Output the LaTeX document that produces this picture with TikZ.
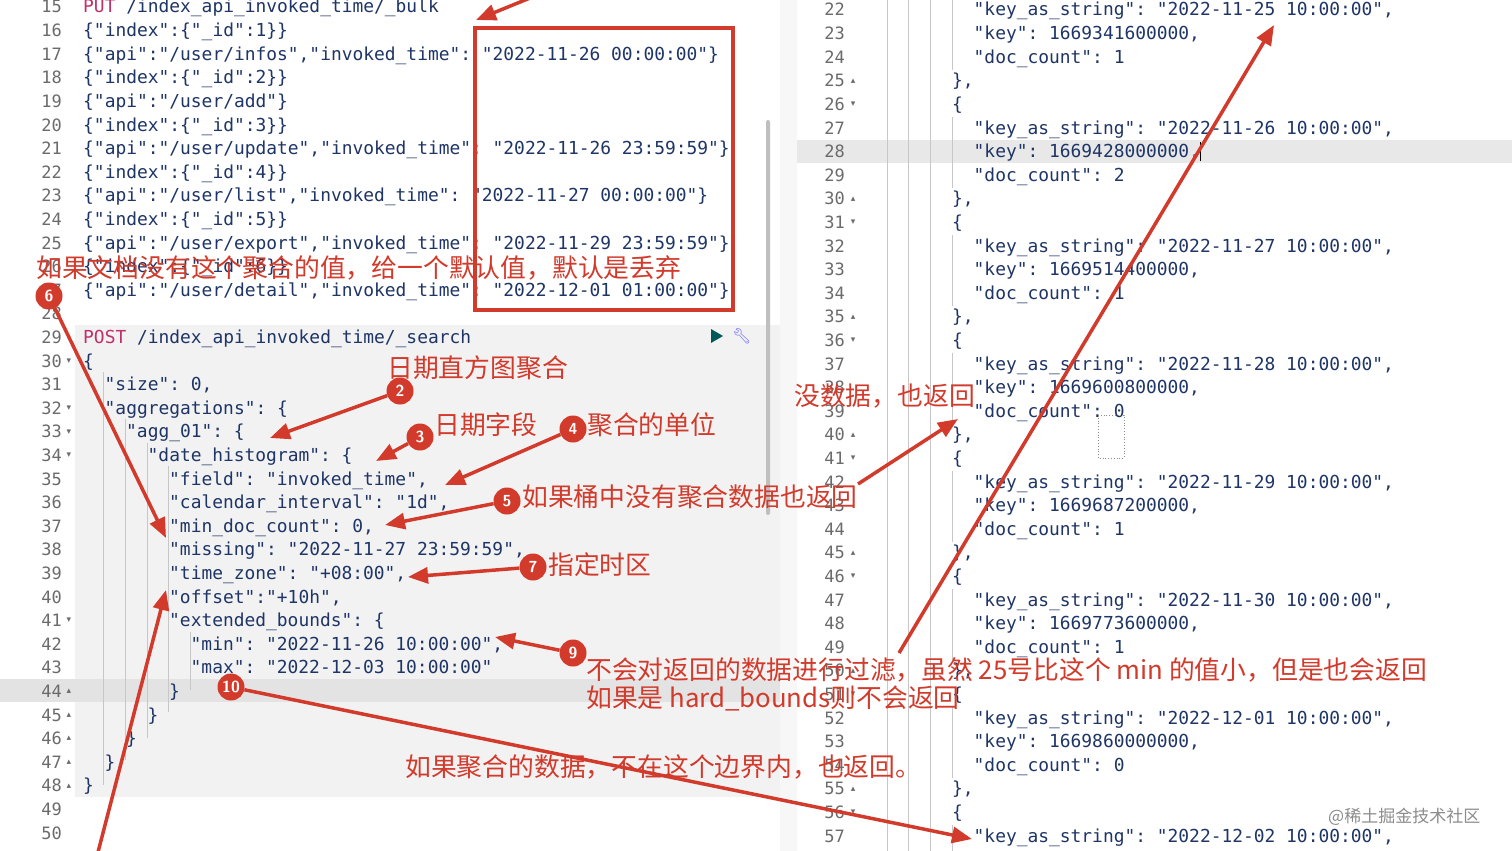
\documentclass[tikz,border=0pt]{standalone}
\usepackage{fontspec}
\setmonofont{DejaVu Sans Mono}
\newfontfamily\cjk{Noto Sans CJK SC}
\newfontfamily\dvs{DejaVu Sans}
\newfontfamily\emo{Noto Emoji}
\usetikzlibrary{arrows.meta}
\definecolor{codec}{HTML}{1E3566}
\definecolor{annr}{HTML}{D23A2B}
\definecolor{kwc}{HTML}{C0306A}
\definecolor{numc}{HTML}{6B6B6B}
\tikzset{
 code/.style={inner sep=0pt,font=\ttfamily\fontsize{17.9}{20}\selectfont,text=codec},
 lnum/.style={inner sep=0pt,font=\ttfamily\fontsize{17}{20}\selectfont,text=numc},
 fold/.style={inner sep=0pt,font=\dvs\fontsize{9}{10}\selectfont,text=numc},
 ann/.style={inner sep=0pt,font=\cjk\fontsize{25.8}{28}\selectfont,text=annr,anchor=west},
 badge/.style={circle,fill=annr,text=white,inner sep=0pt,minimum size=27pt,font=\sffamily\bfseries\fontsize{16}{18}\selectfont},
 arr/.style={draw=annr,line width=3.5pt,-{Triangle[length=20pt,width=16pt]}},
 guide/.style={draw=black!22,line width=0.8pt}
}
\newcommand\mylc[3]{\node[code,anchor=base west] (L#1) at ({83+#2*10.75},{#1*23.6-341}) {#3};\node[lnum,anchor=base east] (N#1) at (62,{#1*23.6-341}) {#1};}
\newcommand\myrc[3]{\node[code,anchor=base west] (R#1) at ({952+#2*10.75},{#1*23.6-503.2}) {#3};\node[lnum,anchor=base east] (M#1) at (845,{#1*23.6-503.2}) {#1};}
\newcommand\lfold[2]{\node[fold] (FL#1) at (69,{#1*23.6-347}) {#2};}
\newcommand\rfold[2]{\node[fold] (FR#1) at (853,{#1*23.6-509.2}) {#2};}
\begin{document}
\begin{tikzpicture}[x=1pt,y=-1pt]
\useasboundingbox (0,0) rectangle (1512,851);
\fill[white] (0,0) rectangle (1512,851);
% backgrounds
\fill[black!5] (75,325) rectangle (780,797);
\fill[black!11] (0,679) rectangle (780,702);
\fill[black!9] (797,140) rectangle (1512,163);
\fill[black!3] (780,0) rectangle (797,851);
\fill[black!25,rounded corners=2pt] (766,120) rectangle (770,515);
% guides left
\foreach \x/\a/\b in {103/372/785,125/419/760,147/443/738,168/466/712,190/632/690}
  \draw[guide] (\x,\a) -- (\x,\b);
% guides right
\foreach \x in {887,908,930}
  \draw[guide] (\x,0) -- (\x,851);
\foreach \a/\b in {0/70,117/188,235/306,353/424,471/542,589/660,707/778,825/851}
  \draw[guide] (952,\a) -- (952,\b);
% left code
\node[code,anchor=base west,text=kwc] (L15) at (83,13) {PUT \textcolor{codec}{/index\_api\_invoked\_time/\_bulk}};
\node[lnum,anchor=base east] (N15) at (62,13) {15};
\mylc{16}{0}{\{"index":\{"\_id":1\}\}}
\mylc{17}{0}{\{"api":"/user/infos","invoked\_time": "2022-11-26 00:00:00"\}}
\mylc{18}{0}{\{"index":\{"\_id":2\}\}}
\mylc{19}{0}{\{"api":"/user/add"\}}
\mylc{20}{0}{\{"index":\{"\_id":3\}\}}
\mylc{21}{0}{\{"api":"/user/update","invoked\_time": "2022-11-26 23:59:59"\}}
\mylc{22}{0}{\{"index":\{"\_id":4\}\}}
\mylc{23}{0}{\{"api":"/user/list","invoked\_time": "2022-11-27 00:00:00"\}}
\mylc{24}{0}{\{"index":\{"\_id":5\}\}}
\mylc{25}{0}{\{"api":"/user/export","invoked\_time": "2022-11-29 23:59:59"\}}
\mylc{26}{0}{\{"index":\{"\_id":6\}\}}
\mylc{27}{0}{\{"api":"/user/detail","invoked\_time": "2022-12-01 01:00:00"\}}
\node[lnum,anchor=base east] (N28) at (62,{28*23.6-341}) {28};
\node[code,anchor=base west,text=kwc] (L29) at (83,{29*23.6-341}) {POST \textcolor{codec}{/index\_api\_invoked\_time/\_search}};
\node[lnum,anchor=base east] (N29) at (62,{29*23.6-341}) {29};
\mylc{30}{0}{\{}
\mylc{31}{2}{"size": 0,}
\mylc{32}{2}{"aggregations": \{}
\mylc{33}{4}{"agg\_01": \{}
\mylc{34}{6}{"date\_histogram": \{}
\mylc{35}{8}{"field": "invoked\_time",}
\mylc{36}{8}{"calendar\_interval": "1d",}
\mylc{37}{8}{"min\_doc\_count": 0,}
\mylc{38}{8}{"missing": "2022-11-27 23:59:59",}
\mylc{39}{8}{"time\_zone": "+08:00",}
\mylc{40}{8}{"offset":"+10h",}
\mylc{41}{8}{"extended\_bounds": \{}
\mylc{42}{10}{"min": "2022-11-26 10:00:00",}
\mylc{43}{10}{"max": "2022-12-03 10:00:00"}
\mylc{44}{8}{\}}
\mylc{45}{6}{\}}
\mylc{46}{4}{\}}
\mylc{47}{2}{\}}
\mylc{48}{0}{\}}
\node[lnum,anchor=base east] (N49) at (62,{49*23.6-341}) {49};
\node[lnum,anchor=base east] (N50) at (62,{50*23.6-341}) {50};
\lfold{30}{▾}\lfold{32}{▾}\lfold{33}{▾}\lfold{34}{▾}\lfold{41}{▾}
\lfold{44}{▴}\lfold{45}{▴}\lfold{46}{▴}\lfold{47}{▴}\lfold{48}{▴}
% run icons
\fill[teal!70!black] (711,329) -- (711,343) -- (723,336) -- cycle;
\node[inner sep=0pt,font=\emo\fontsize{15}{16}\selectfont,text=blue!60] (wr) at (742,336) {🔧};
% right code
\myrc{22}{2}{"key\_as\_string": "2022-11-25 10:00:00",}
\myrc{23}{2}{"key": 1669341600000,}
\myrc{24}{2}{"doc\_count": 1}
\myrc{25}{0}{\},}
\myrc{26}{0}{\{}
\myrc{27}{2}{"key\_as\_string": "2022-11-26 10:00:00",}
\myrc{28}{2}{"key": 1669428000000,}
\myrc{29}{2}{"doc\_count": 2}
\myrc{30}{0}{\},}
\myrc{31}{0}{\{}
\myrc{32}{2}{"key\_as\_string": "2022-11-27 10:00:00",}
\myrc{33}{2}{"key": 1669514400000,}
\myrc{34}{2}{"doc\_count": 1}
\myrc{35}{0}{\},}
\myrc{36}{0}{\{}
\myrc{37}{2}{"key\_as\_string": "2022-11-28 10:00:00",}
\myrc{38}{2}{"key": 1669600800000,}
\myrc{39}{2}{"doc\_count": 0}
\myrc{40}{0}{\},}
\myrc{41}{0}{\{}
\myrc{42}{2}{"key\_as\_string": "2022-11-29 10:00:00",}
\myrc{43}{2}{"key": 1669687200000,}
\myrc{44}{2}{"doc\_count": 1}
\myrc{45}{0}{\},}
\myrc{46}{0}{\{}
\myrc{47}{2}{"key\_as\_string": "2022-11-30 10:00:00",}
\myrc{48}{2}{"key": 1669773600000,}
\myrc{49}{2}{"doc\_count": 1}
\myrc{50}{0}{\},}
\myrc{51}{0}{\{}
\myrc{52}{2}{"key\_as\_string": "2022-12-01 10:00:00",}
\myrc{53}{2}{"key": 1669860000000,}
\myrc{54}{2}{"doc\_count": 0}
\myrc{55}{0}{\},}
\myrc{56}{0}{\{}
\myrc{57}{2}{"key\_as\_string": "2022-12-02 10:00:00",}
\rfold{25}{▴}\rfold{26}{▾}\rfold{30}{▴}\rfold{31}{▾}\rfold{35}{▴}\rfold{36}{▾}
\rfold{40}{▴}\rfold{41}{▾}\rfold{45}{▴}\rfold{46}{▾}\rfold{50}{▴}\rfold{51}{▾}
\rfold{55}{▴}\rfold{56}{▾}
\draw[black,line width=1pt] (1200,142) -- (1200,161);
\draw[black!45,dotted,line width=0.8pt] (1098,415) rectangle (1124,458);
% annotations
\draw[annr,line width=3.5pt] (475,28) rectangle (733,310);
\coordinate (t1a) at (530,-2);
\coordinate (t1b) at (476,20);
\draw[arr] (t1a) -- (t1b);
\node[ann] (a6t) at (36,268) {如果文档没有这个聚合的值，给一个默认值，默认是丢弃};
\node[badge] (b6) at (49,296) {6};
\coordinate (p6) at (166,538);
\draw[arr] (b6) -- (p6);
\node[badge] (b2) at (400,391) {2};
\node[ann] (a2t) at (387,368) {日期直方图聚合};
\coordinate (p2) at (270,438);
\draw[arr] (b2) -- (p2);
\node[badge] (b3) at (420,437) {3};
\node[ann] (a3t) at (434,425) {日期字段};
\coordinate (p3) at (376,461);
\draw[arr] (b3) -- (p3);
\node[badge] (b4) at (573,429) {4};
\node[ann] (a4t) at (587,425) {聚合的单位};
\coordinate (p4) at (445,485);
\draw[arr] (b4) -- (p4);
\node[badge] (b5) at (507,501) {5};
\node[ann] (a5t) at (522,497) {如果桶中没有聚合数据也返回};
\coordinate (p5) at (385,525);
\draw[arr] (b5) -- (p5);
\node[badge] (b7) at (533,567) {7};
\node[ann] (a7t) at (548,565) {指定时区};
\coordinate (p7) at (408,577);
\draw[arr] (b7) -- (p7);
\node[badge] (b9) at (573,653) {9};
\coordinate (p9) at (495,637);
\draw[arr] (b9) -- (p9);
\node[ann] (a9t) at (586,670) {不会对返回的数据进行过滤，虽然 25号比这个 min 的值小，但是也会返回};
\node[ann] (a9u) at (586,698) {如果是 hard\_bounds则不会返回};
\node[badge] (b10) at (231,687) {10};
\coordinate (p10) at (972,839);
\draw[arr] (b10) -- (p10);
\node[ann] (a10t) at (405,767) {如果聚合的数据，不在这个边界内，也返回。};
\coordinate (o1) at (97,856);
\coordinate (o2) at (166,590);
\draw[arr] (o1) -- (o2);
\node[ann] (ant) at (794,396) {没数据，也返回};
\coordinate (n1) at (858,484);
\coordinate (n2) at (958,419);
\draw[arr] (n1) -- (n2);
\coordinate (m1) at (899,653);
\coordinate (m2) at (1274,25);
\draw[arr] (m1) -- (m2);
\node[inner sep=0pt,anchor=west,font=\cjk\fontsize{17}{20}\selectfont,text=black!45] (wm) at (1328,817) {@稀土掘金技术社区};
\end{tikzpicture}
\end{document}
